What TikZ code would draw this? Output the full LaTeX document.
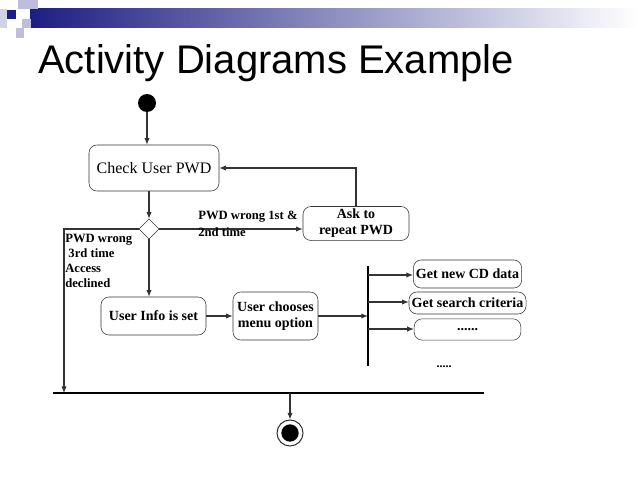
\documentclass[tikz,border=0pt]{standalone}
\usepackage{fontspec}
\setmainfont{Liberation Serif}
\newfontfamily\arialf{Liberation Sans}
\usetikzlibrary{shapes.geometric,arrows.meta}
\definecolor{navy}{RGB}{30,30,130}
\definecolor{lightb}{RGB}{190,190,220}
\tikzset{
  act/.style={draw=black!80,rounded corners=6pt,align=center,inner sep=2pt},
  arr/.style={-{Latex[length=5pt,width=4pt]},black!80,line width=0.8pt},
  bar/.style={line width=2pt},
  bf/.style={font=\bfseries\fontsize{10.5}{12}\selectfont},
  lbl/.style={font=\bfseries\fontsize{9.5}{11.25}\selectfont,align=left,inner sep=0pt,anchor=north west}
}
\begin{document}
\begin{tikzpicture}[x=0.75pt,y=-0.75pt]
\useasboundingbox (0,0) rectangle (638,478);
% header
\shade[left color=navy,right color=white] (30,9) rectangle (638,28);
\fill[lightb] (18,0) rectangle (38,9);
\fill[lightb!70] (0,9) rectangle (7,28);
\fill[navy] (7,10) rectangle (16,19);
\fill[lightb] (22,19) rectangle (31,28);
\fill[lightb] (16,28) rectangle (24,38);
\node[anchor=base west,font=\arialf\fontsize{30}{32}\selectfont,inner sep=0pt] (title) at (38,74) {Activity Diagrams Example};
% nodes
\node[circle,fill=black,minimum size=13.5pt,inner sep=0pt] (start) at (147,103) {};
\node[act,minimum width=97.5pt,minimum height=34.5pt,font=\fontsize{12}{14}\selectfont] (check) at (154,168) {Check User PWD};
\node[diamond,draw=black!80,minimum size=15pt,inner sep=0pt] (dec) at (149,229) {};
\node[act,bf,minimum width=79.5pt,minimum height=24.75pt] (ask) at (356,223.5) {Ask to\\repeat PWD};
\node[act,bf,minimum width=78.75pt,minimum height=28.5pt] (info) at (153.5,316) {User Info is set};
\node[act,bf,minimum width=63.75pt,minimum height=36pt] (choose) at (275.5,316) {User chooses\\menu option};
\coordinate (forktop) at (368,266);
\coordinate (forkbot) at (368,366);
\draw[bar] (forktop) -- (forkbot);
\node[act,bf,minimum width=80pt,minimum height=21pt] (b1) at (467.5,274) {Get new CD data};
\node[act,bf,minimum width=80pt,minimum height=16.5pt] (b2) at (467.5,303) {Get search criteria};
\node[act,bf,minimum width=80pt,minimum height=16pt] (b3) at (467.5,329.5) {......};
\node[font=\bfseries\fontsize{9}{10}\selectfont] (dots) at (444,367) {.....};
\coordinate (joinL) at (53,393);
\coordinate (joinR) at (484,393);
\draw[bar] (joinL) -- (joinR);
\node[circle,draw=black!80,line width=0.8pt,minimum size=19.5pt,inner sep=0pt] (endo) at (290,433) {};
\node[circle,fill=black,minimum size=13pt,inner sep=0pt] at (endo) {};
% edges
\draw[arr] (start) -- (start|-check.north);
\draw[arr] (check.south-|dec) -- (dec.north);
\draw[arr] (dec.east) -- (ask.west|-dec);
\draw[arr] (ask.north) |- (check.east);
\draw[arr] (dec.west) -| (64,393);
\draw[arr] (dec.south) -- (dec|-info.north);
\draw[arr] (info) -- (choose);
\draw[arr] (choose) -- (choose-|forktop);
\draw[arr] (368,275) -- (b1.west|-368,275);
\draw[arr] (368,302) -- (b2.west|-368,302);
\draw[arr] (368,329) -- (b3.west|-368,329);
\draw[arr] (290,393) -- (endo.north);
% labels
\node[lbl] (l1) at (198,211) {PWD wrong 1st \&\\[1pt]2nd time};
\node[lbl] (l2) at (65,234) {PWD wrong\\\ 3rd time\\Access\\declined};
\end{tikzpicture}
\end{document}
